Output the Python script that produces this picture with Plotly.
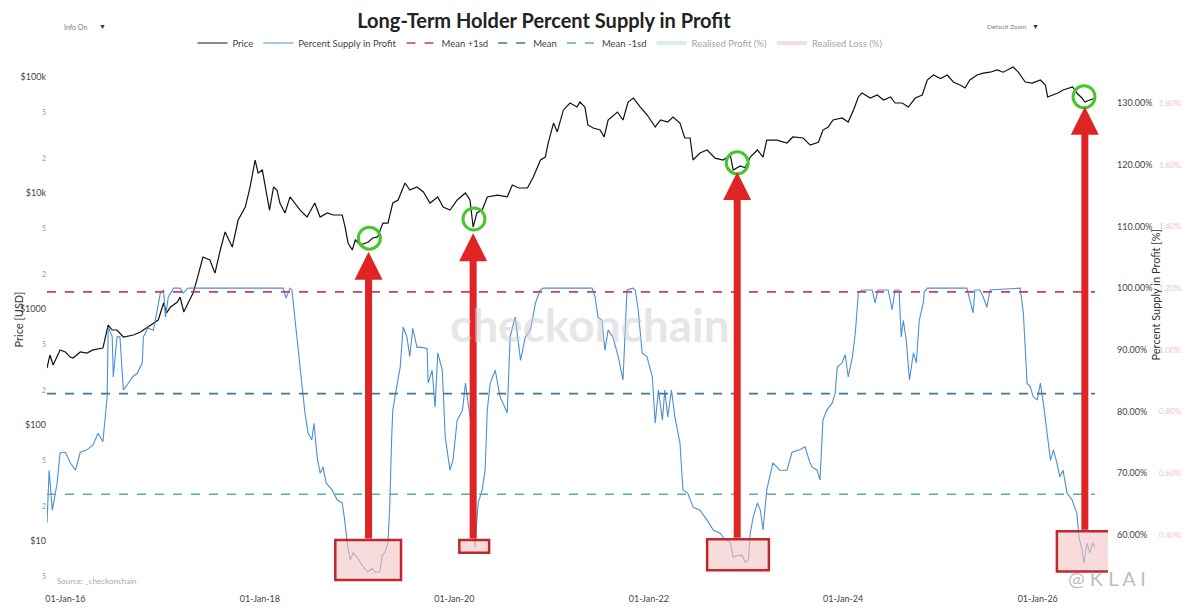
import plotly.graph_objects as go

title = "Long-Term Holder Percent Supply in Profit"

# BTC price (USD, log axis)
price_dates = [
    "2015-10-24", "2015-11-04", "2015-11-16", "2015-12-12", "2016-01-01", "2016-01-19", "2016-01-30",
    "2016-02-26", "2016-03-22", "2016-04-14", "2016-05-21", "2016-06-10", "2016-06-25", "2016-07-13",
    "2016-08-06", "2016-09-13", "2016-10-09", "2016-11-05", "2016-11-27", "2016-12-15", "2017-01-04",
    "2017-01-15", "2017-01-30", "2017-02-25", "2017-03-07", "2017-03-21", "2017-04-06", "2017-04-25",
    "2017-05-09", "2017-06-01", "2017-06-27", "2017-07-16", "2017-08-05", "2017-08-23", "2017-09-19",
    "2017-10-11", "2017-11-07", "2017-11-25", "2017-12-14", "2017-12-25", "2018-01-10", "2018-01-21",
    "2018-02-06", "2018-02-21", "2018-03-06", "2018-03-17", "2018-04-05", "2018-04-24", "2018-05-12",
    "2018-06-01", "2018-06-27", "2018-07-26", "2018-08-15", "2018-09-11", "2018-10-03", "2018-11-06",
    "2018-11-17", "2018-11-28", "2018-12-14", "2018-12-25", "2019-01-13", "2019-02-12", "2019-03-01",
    "2019-03-19", "2019-04-08", "2019-04-27", "2019-05-15", "2019-06-04", "2019-06-30", "2019-07-18",
    "2019-08-14", "2019-09-07", "2019-10-02", "2019-10-31", "2019-11-20", "2019-12-16", "2020-01-12",
    "2020-02-12", "2020-02-29", "2020-03-12", "2020-03-26", "2020-04-15", "2020-05-04", "2020-06-11",
    "2020-07-18", "2020-08-06", "2020-08-30", "2020-10-02", "2020-10-24", "2020-11-20", "2020-12-08",
    "2020-12-19", "2021-01-08", "2021-01-22", "2021-02-14", "2021-03-11", "2021-04-06", "2021-04-17",
    "2021-05-06", "2021-05-17", "2021-06-06", "2021-07-02", "2021-07-17", "2021-08-01", "2021-09-05",
    "2021-09-26", "2021-10-15", "2021-11-04", "2021-11-30", "2021-12-26", "2022-01-25", "2022-02-14",
    "2022-03-13", "2022-04-02", "2022-04-28", "2022-05-16", "2022-06-05", "2022-06-16", "2022-07-12",
    "2022-08-08", "2022-09-07", "2022-10-07", "2022-11-03", "2022-11-14", "2022-12-10", "2022-12-29",
    "2023-01-17", "2023-02-13", "2023-03-06", "2023-03-20", "2023-04-27", "2023-06-04", "2023-06-26",
    "2023-08-04", "2023-08-30", "2023-09-30", "2023-10-17", "2023-11-06", "2023-11-24", "2023-12-28",
    "2024-01-20", "2024-02-09", "2024-02-27", "2024-03-12", "2024-04-12", "2024-05-08", "2024-06-01",
    "2024-06-27", "2024-07-14", "2024-08-10", "2024-09-02", "2024-09-28", "2024-10-24", "2024-11-12",
    "2024-12-05", "2025-01-01", "2025-01-26", "2025-02-18", "2025-03-15", "2025-04-03", "2025-04-21",
    "2025-05-18", "2025-06-10", "2025-07-06", "2025-08-02", "2025-08-24", "2025-10-01", "2025-10-20",
    "2025-11-15", "2025-12-11", "2026-01-11", "2026-01-30", "2026-02-07", "2026-02-25", "2026-03-18",
    "2026-04-06", "2026-05-02", "2026-05-12", "2026-05-28", "2026-06-16", "2026-06-27", "2026-07-16",
    "2026-08-04",
]
price_usd = [
    310, 401, 329, 444, 426, 385, 378,
    426, 417, 444, 461, 728, 659, 659,
    574, 597, 634, 700, 757, 804, 1127,
    925, 1040, 1148, 1268, 942, 1127, 1374,
    1780, 2806, 2642, 2040, 3227, 4615, 3420,
    5850, 7570, 11270, 19250, 14860, 15770, 11270,
    7130, 11270, 10610, 8200, 6730, 9250, 8200,
    7130, 6210, 8200, 6210, 6730, 6460, 6460,
    5090, 3710, 3227, 3936, 3565, 3784, 4095,
    4180, 5510, 5510, 8200, 8710, 12200, 10610,
    11270, 10200, 8200, 9250, 7570, 7130, 8710,
    10000, 8710, 5090, 6730, 7130, 9250, 9600,
    9250, 11720, 11040, 11040, 13740, 19250, 20400,
    27000, 40100, 33600, 52000, 59700, 55100, 60800,
    55100, 38600, 36300, 34900, 30400, 42600, 49900,
    42600, 60800, 65900, 55100, 47000, 37100, 42600,
    40900, 45200, 40100, 29800, 29800, 19250, 22100,
    23500, 20000, 19250, 21300, 15770, 17100, 16500,
    20400, 23500, 20400, 28600, 28600, 27000, 30400,
    29800, 25900, 27400, 34900, 37100, 42600, 44400,
    40900, 52000, 67300, 72800, 65900, 70000, 63400,
    67300, 59700, 59700, 55100, 65900, 70000, 94200,
    104000, 97000, 104000, 90600, 85300, 80400, 94200,
    104000, 108000, 110000, 115000, 110000, 122000, 110000,
    90600, 88700, 94200, 85300, 67300, 70000, 72800,
    77200, 80400, 82000, 72800, 65900, 60800, 63400,
    65900,
]

# long-term holder percent supply in profit (%)
pct_dates = [
    "2015-10-24", "2015-11-01", "2015-11-13", "2015-12-01", "2015-12-12", "2016-01-01", "2016-01-19",
    "2016-02-08", "2016-02-26", "2016-03-22", "2016-04-14", "2016-05-03", "2016-05-21", "2016-06-06",
    "2016-06-10", "2016-06-25", "2016-06-29", "2016-07-13", "2016-07-24", "2016-08-06", "2016-08-20",
    "2016-09-09", "2016-09-27", "2016-10-16", "2016-10-20", "2016-11-05", "2016-11-27", "2016-12-23",
    "2017-01-04", "2017-01-11", "2017-01-22", "2017-02-11", "2017-03-07", "2017-03-18", "2017-04-06",
    "2018-03-29", "2018-04-09", "2018-04-24", "2018-05-01", "2018-05-19", "2018-06-08", "2018-06-19",
    "2018-07-01", "2018-07-15", "2018-07-23", "2018-08-04", "2018-08-15", "2018-08-26", "2018-09-07",
    "2018-09-29", "2018-10-18", "2018-11-06", "2018-11-14", "2018-11-25", "2018-12-06", "2018-12-17",
    "2019-01-01", "2019-01-20", "2019-02-09", "2019-02-27", "2019-03-09", "2019-03-27", "2019-04-05",
    "2019-04-16", "2019-04-27", "2019-05-04", "2019-05-11", "2019-05-15", "2019-06-01", "2019-06-12",
    "2019-06-23", "2019-07-07", "2019-07-18", "2019-07-29", "2019-08-14", "2019-09-03", "2019-09-21",
    "2019-09-25", "2019-10-10", "2019-10-21", "2019-10-31", "2019-11-17", "2019-11-28", "2019-12-16",
    "2019-12-27", "2020-01-12", "2020-02-01", "2020-02-12", "2020-02-22", "2020-03-08", "2020-03-19",
    "2020-03-31", "2020-04-15", "2020-04-26", "2020-05-04", "2020-05-15", "2020-06-03", "2020-06-21",
    "2020-07-18", "2020-07-29", "2020-08-17", "2020-09-06", "2020-09-24", "2020-10-13", "2020-11-01",
    "2020-11-19", "2020-12-01", "2021-06-02", "2021-06-13", "2021-06-24", "2021-07-09", "2021-07-20",
    "2021-08-01", "2021-08-19", "2021-09-08", "2021-09-26", "2021-10-11", "2021-11-01", "2021-11-11",
    "2021-11-22", "2021-12-07", "2021-12-25", "2022-01-14", "2022-01-25", "2022-02-06", "2022-02-21",
    "2022-03-02", "2022-03-13", "2022-03-27", "2022-04-09", "2022-04-28", "2022-05-09", "2022-05-27",
    "2022-06-16", "2022-07-12", "2022-08-08", "2022-08-31", "2022-09-26", "2022-10-14", "2022-11-03",
    "2022-11-14", "2022-12-03", "2022-12-18", "2022-12-29", "2023-01-10", "2023-01-17", "2023-01-28",
    "2023-02-13", "2023-02-24", "2023-03-06", "2023-03-20", "2023-04-12", "2023-05-08", "2023-06-04",
    "2023-06-23", "2023-07-22", "2023-08-11", "2023-08-29", "2023-09-07", "2023-09-25", "2023-10-06",
    "2023-10-17", "2023-10-31", "2023-11-21", "2023-12-02", "2023-12-10", "2023-12-28", "2024-01-09",
    "2024-01-20", "2024-02-05", "2024-02-16", "2024-02-27", "2024-03-12", "2024-04-19", "2024-04-30",
    "2024-05-11", "2024-06-18", "2024-07-03", "2024-07-14", "2024-07-29", "2024-08-06", "2024-08-14",
    "2024-08-25", "2024-09-06", "2024-09-21", "2024-10-02", "2024-10-13", "2024-10-28", "2024-11-01",
    "2024-11-12", "2025-04-10", "2025-04-21", "2025-05-03", "2025-05-10", "2025-05-28", "2025-06-10",
    "2025-06-24", "2025-07-06", "2025-10-27", "2025-11-08", "2025-11-15", "2025-11-22", "2025-12-04",
    "2025-12-15", "2025-12-30", "2026-01-11", "2026-01-22", "2026-02-07", "2026-02-18", "2026-03-01",
    "2026-03-14", "2026-03-25", "2026-04-06", "2026-04-21", "2026-05-10", "2026-05-28", "2026-06-05",
    "2026-06-16", "2026-06-23", "2026-07-05", "2026-07-16", "2026-07-27", "2026-08-04",
]
pct_supply = [
    61.9, 70.5, 64.0, 68.4, 73.3, 73.4, 71.7,
    70.5, 73.4, 73.8, 74.6, 76.5, 75.1, 82.4,
    93.7, 92.1, 85.6, 92.1, 92.1, 83.5, 84.3,
    85.6, 86.2, 87.9, 92.1, 93.5, 93.2, 99.2,
    99.7, 95.3, 98.6, 100, 100, 99.2, 100,
    100, 98.4, 100, 99.7, 92.1, 84.6, 79.8,
    76.5, 75.4, 78.1, 72.6, 70.0, 71.0, 68.4,
    67.3, 65.7, 65.2, 62.9, 58.7, 55.9, 57.1,
    56.4, 55.1, 54.0, 54.6, 54.0, 54.0, 56.7,
    57.2, 58.7, 65.2, 75.9, 80.2, 84.6, 87.2,
    93.7, 92.1, 88.9, 93.5, 90.4, 90.4, 90.2,
    84.6, 86.7, 80.7, 89.5, 86.7, 75.9, 70.5,
    72.1, 78.6, 80.2, 84.6, 81.4, 77.0, 58.0,
    65.2, 67.3, 70.5, 80.2, 84.6, 86.7, 82.4,
    79.8, 92.1, 95.3, 88.3, 92.1, 93.2, 97.6,
    99.7, 100, 100, 98.6, 95.3, 94.8, 89.9,
    93.2, 92.1, 88.9, 85.1, 99.7, 100, 99.7,
    96.5, 89.5, 88.9, 85.6, 78.1, 83.5, 78.6,
    83.5, 79.1, 83.5, 79.1, 74.9, 67.3, 66.8,
    64.5, 64.0, 62.4, 60.8, 60.3, 59.2, 58.8,
    56.4, 56.7, 56.7, 55.6, 55.9, 60.3, 62.9,
    65.2, 64.0, 60.8, 67.3, 71.7, 70.5, 70.5,
    73.4, 73.8, 74.3, 71.7, 71.0, 70.5, 68.9,
    78.6, 80.2, 81.4, 83.0, 87.2, 87.9, 89.2,
    85.6, 88.9, 92.9, 99.2, 99.7, 99.7, 97.6,
    99.7, 99.7, 96.5, 99.7, 99.7, 92.1, 94.8,
    91.6, 85.1, 89.5, 87.9, 94.8, 97.6, 99.4,
    100, 100, 98.1, 96.0, 99.7, 99.7, 98.6,
    96.9, 99.7, 100, 96.0, 90.4, 84.6, 84.0,
    82.4, 81.9, 84.6, 81.4, 75.9, 72.1, 73.8,
    71.7, 69.4, 70.5, 66.8, 65.7, 63.5, 59.7,
    57.6, 55.4, 58.7, 57.1, 58.7, 58.0,
]

# mean bands of the percent series
band_names = ["Mean +1sd", "Mean", "Mean -1sd"]
band_levels = [99.4, 82.9, 66.6]
band_dates = ["2015-10-24", "2026-08-04"]

# realised profit / loss series are switched off in the source chart (legend only)
realised_names = ["Realised Profit (%)", "Realised Loss (%)"]

# price axis ticks
price_tickvals = [5, 10, 20, 50, 100, 200, 500, 1000, 2000, 5000, 10000, 20000, 50000, 100000]
price_ticklabels = ["5", "$10", "2", "5", "$100", "2", "5", "$1000", "2", "5", "$10k", "2", "5", "$100k"]

# highlighted capitulation zones
zone_starts = ["2018-10-11", "2020-01-20", "2022-08-08", "2026-03-14"]
zone_ends = ["2019-06-15", "2020-05-11", "2023-03-28", "2026-09-29"]
zone_tops = [59.2, 59.2, 59.3, 60.6]
zone_bottoms = [52.7, 57.1, 54.3, 54.1]
arrow_dates = ["2019-02-13", "2020-03-12", "2022-11-29", "2026-06-27"]
arrow_tips = [105.9, 108.9, 118.8, 129.4]
circle_dates = ["2019-02-16", "2020-03-15", "2022-11-29", "2026-06-24"]
circle_levels = [108.1, 111.2, 120.3, 131.0]

FONT = "Lato"
band_colors = ["#c9405f", "#3a77a8", "#5aa9b8"]
realised_colors = ["#b5e3c4", "#f2b9c6"]

fig = go.Figure()

fig.add_trace(go.Scatter(x=price_dates, y=price_usd, name="Price", mode="lines",
                         line=dict(color="#111111", width=1.2), yaxis="y"))
fig.add_trace(go.Scatter(x=pct_dates, y=pct_supply, name="Percent Supply in Profit", mode="lines",
                         line=dict(color="#4d8fd1", width=1.1), yaxis="y2"))
for name, level, color in zip(band_names, band_levels, band_colors):
    fig.add_trace(go.Scatter(x=band_dates, y=[level] * len(band_dates), name=name, mode="lines",
                             line=dict(color=color, width=1.6, dash="dash"), yaxis="y2"))
for name, color in zip(realised_names, realised_colors):
    fig.add_trace(go.Scatter(x=band_dates[:1], y=[None], name=name, mode="lines", visible="legendonly",
                             line=dict(color=color, width=4), yaxis="y3"))

# the page body adds an 8 px offset; layout below is given in screen pixels
OFF = 8
W, H = 1192, 607
L, R, T, B = 47 - OFF, 22, 58 - OFF, H - (592 - OFF)
paper_w = W - L - R
paper_h = H - T - B


def px_x(px):
    return (px - OFF - L) / paper_w


def px_y(py):
    return (H - B - (py - OFF)) / paper_h


ticktext = []
for v, lab in zip(price_tickvals, price_ticklabels):
    if lab in ("2", "5"):
        ticktext.append("<span style='font-size:7px;color:#9a9a9a'>" + lab + "</span>")
    else:
        ticktext.append(lab)

shapes = []
for x0, x1, y0, y1 in zip(zone_starts, zone_ends, zone_bottoms, zone_tops):
    shapes.append(dict(type="rect", xref="x", yref="y2", x0=x0, x1=x1, y0=y0, y1=y1,
                       line=dict(color="#c0282d", width=2.5), fillcolor="rgba(243,196,196,0.6)",
                       layer="above"))
for cx, cy in zip(circle_dates, circle_levels):
    shapes.append(dict(type="circle", xref="x", yref="y2", xsizemode="pixel", ysizemode="pixel",
                       xanchor=cx, yanchor=cy, x0=-11, x1=11, y0=-11, y1=11,
                       line=dict(color="#45c829", width=3), layer="above"))

annotations = []
for d, tip, tail in zip(arrow_dates, arrow_tips, zone_tops):
    annotations.append(dict(x=d, y=tip, xref="x", yref="y2", ax=d, ay=tail, axref="x", ayref="y2",
                            text="", showarrow=True, arrowhead=2, arrowsize=0.8, arrowwidth=7,
                            arrowcolor="#e02424"))

annotations += [
    dict(text="checkonchain", x=px_x(590), y=px_y(324), xref="paper", yref="paper", showarrow=False,
         font=dict(family=FONT, size=46, color="rgba(205,205,205,0.5)", weight="bold")),
    dict(text="Price [USD]", x=px_x(9), y=px_y(320), xref="paper", yref="paper", showarrow=False,
         textangle=-90, font=dict(family=FONT, size=11, color="#333333")),
    dict(text="Percent Supply in Profit [%]", x=px_x(1163), y=px_y(295), xref="paper", yref="paper",
         showarrow=False, textangle=-90, font=dict(family=FONT, size=11, color="#333333")),
    dict(text="Source: _checkonchain", x=px_x(55), y=px_y(588), xref="paper", yref="paper",
         xanchor="left", showarrow=False, font=dict(family=FONT, size=8, color="#aaaaaa")),
    dict(text="Info On", x=px_x(62), y=px_y(21), xref="paper", yref="paper", xanchor="left",
         showarrow=False, font=dict(family=FONT, size=7, color="#808080")),
    dict(text="▼", x=px_x(97), y=px_y(20), xref="paper", yref="paper", showarrow=False,
         font=dict(family=FONT, size=7, color="#333333")),
    dict(text="Default Zoom", x=px_x(985), y=px_y(21), xref="paper", yref="paper", xanchor="left",
         showarrow=False, font=dict(family=FONT, size=6.5, color="#808080")),
    dict(text="▼", x=px_x(1041), y=px_y(20), xref="paper", yref="paper", showarrow=False,
         font=dict(family=FONT, size=7, color="#333333")),
    dict(text="@ K L A I", x=px_x(1148), y=px_y(592), xref="paper", yref="paper", showarrow=False,
         font=dict(family=FONT, size=20, color="rgba(160,160,160,0.7)")),
]

fig.update_layout(
    width=W, height=H,
    margin=dict(l=L, r=R, t=T, b=B, autoexpand=False),
    paper_bgcolor="white", plot_bgcolor="white",
    font=dict(family=FONT, size=10, color="#444444"),
    title=dict(text="<b>" + title + "</b>", x=px_x(544), xref="paper", xanchor="center",
               y=1 - (21 - OFF) / H, yref="container", yanchor="middle",
               font=dict(family=FONT, size=20, color="#222222")),
    showlegend=True,
    legend=dict(orientation="h", x=px_x(540), xanchor="center", y=px_y(43), yanchor="middle",
                font=dict(family=FONT, size=9.5, color="#444444"), bgcolor="rgba(0,0,0,0)",
                itemwidth=30),
    xaxis=dict(type="date", domain=[0, px_x(1108)], range=["2015-10-24", "2026-09-22"],
               showgrid=False, zeroline=False, showline=False, ticks="",
               tick0="2016-01-01", dtick="M24", tickformat="%d-%b-%y",
               tickfont=dict(size=9, color="#444444")),
    yaxis=dict(type="log", range=[0.5606, 5.1638], showgrid=False, zeroline=False, showline=False,
               tickmode="array", tickvals=price_tickvals, ticktext=ticktext, ticks="",
               tickfont=dict(size=9, color="#444444")),
    yaxis2=dict(overlaying="y", side="right", anchor="x", range=[50.76, 137.29], showgrid=False,
                zeroline=False, showline=False, tick0=60, dtick=10, tickformat=".2f", ticksuffix="%",
                ticks="", ticklabelstandoff=8, tickfont=dict(size=9, color="#444444")),
    yaxis3=dict(overlaying="y", side="right", anchor="free", position=px_x(1158),
                range=[0.2152, 1.9458], showgrid=False, zeroline=False, showline=False,
                tick0=0.4, dtick=0.2, tickformat=".2f", ticksuffix="%", ticks="",
                tickfont=dict(size=8, color="#f1c2cd")),
    shapes=shapes,
    annotations=annotations,
)

fig.write_html("out.html")
